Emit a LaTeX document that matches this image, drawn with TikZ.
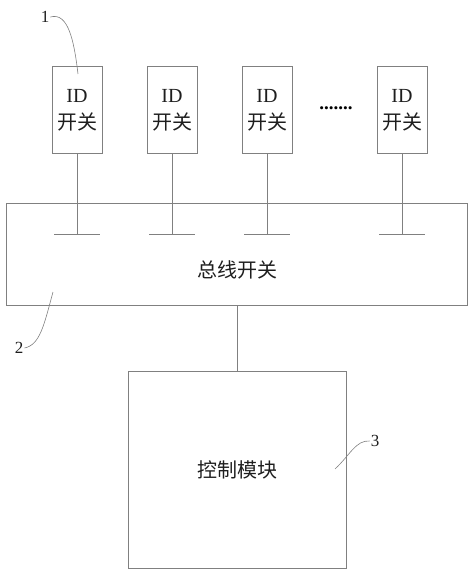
\documentclass[tikz,border=0pt]{standalone}
\usepackage{fontspec}
\setmainfont{Liberation Serif}
\newfontfamily\cjk{Noto Sans CJK SC}
\usetikzlibrary{positioning,calc}
\definecolor{trait}{RGB}{128,128,128}
\definecolor{texte}{RGB}{30,30,30}

\begin{document}
\begin{tikzpicture}[x=1pt,y=-1pt,
    boite/.style={draw=trait,line width=1pt,inner sep=0pt},
    lien/.style={draw=trait,line width=1pt},
    repere/.style={draw=trait,line width=0.6pt},
    etiq/.style={font=\fontsize{17}{17}\selectfont,text=texte,inner sep=1pt}]

    \useasboundingbox (0,0) rectangle (474,575);

    % MODULES ID
    \foreach \x/\n in {77/1,172/2,267/3,402/4} {
        \node[boite,minimum width=50,minimum height=87,anchor=north,
              align=center,text=texte,font=\cjk\fontsize{20}{27}\selectfont]
              (id\n) at (\x,66) {\fontspec{Liberation Serif}ID\\开关};
        \coordinate (barre\n) at (\x,234);
        \draw[lien] (id\n.south) -- (barre\n);
        \draw[lien] ($(barre\n)+(-23,0)$) -- ($(barre\n)+(23,0)$);
    }

    % POINTILLES
    \node[font=\fontsize{19}{19}\selectfont\bfseries,text=black,anchor=base,inner sep=0pt]
          (pts) at (336,110) {.......};

    % BUS
    \node[boite,minimum width=461,minimum height=102,anchor=north west]
          (bus) at (6,203) {};
    \node[font=\cjk\fontsize{20}{20}\selectfont,text=texte] (buslbl) at (237,270) {总线开关};

    % MODULE DE CONTROLE
    \node[boite,minimum width=218,minimum height=197,anchor=north,
          font=\cjk\fontsize{20}{20}\selectfont,text=texte]
          (ctrl) at (237,371) {控制模块};
    \draw[lien] (bus.south -| ctrl.north) -- (ctrl.north);

    % REPERES
    \node[etiq] (r1) at (45,17) {1};
    \draw[repere] (r1.east) .. controls (68,12) and (74,40) .. (78,74);
    \node[etiq] (r2) at (19,348) {2};
    \draw[repere] (r2.east) .. controls (40,345) and (44,325) .. (53,292);
    \node[etiq] (r3) at (375,441) {3};
    \draw[repere] (r3.west) .. controls (356,440) and (350,455) .. (335,469);

\end{tikzpicture}
\end{document}
